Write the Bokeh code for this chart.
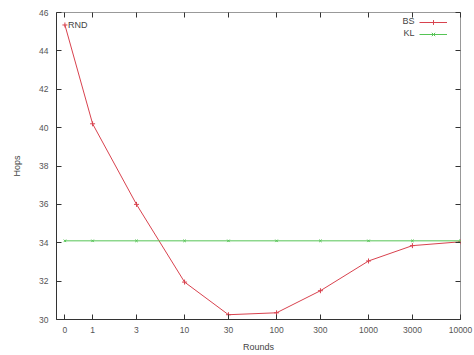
from bokeh.plotting import figure
from bokeh.models import FixedTicker, LinearAxis, LogAxis, Legend, LegendItem, Range1d, Label
from bokeh.embed import file_html
from bokeh.resources import INLINE

# Data
rounds_labels = ["0", "1", "3", "10", "30", "100", "300", "1000", "3000", "10000"]
rounds_pos = [0.5, 1, 3, 10, 30, 100, 300, 1000, 3000, 10000]  # 0 drawn at 0.5 on the log axis
bs_hops = [45.35, 40.2, 36.0, 31.95, 30.25, 30.35, 31.5, 33.05, 33.85, 34.05]
kl_hops = [34.1, 34.1, 34.1, 34.1, 34.1, 34.1, 34.1, 34.1, 34.1, 34.1]
y_ticks = [30, 32, 34, 36, 38, 40, 42, 44, 46]
series_names = ["BS", "KL"]

FONT = "Liberation Sans"
TXT = "#555555"
RED = "#d8424e"
GREEN = "#55c455"

p = figure(width=474, height=355, output_backend="svg", toolbar_location=None,
           x_axis_type="log", x_range=Range1d(0.405, 10000), y_range=Range1d(30, 46),
           min_border_left=56, min_border_right=14, min_border_top=12, min_border_bottom=36,
           x_axis_label="Rounds", y_axis_label="Hops")
p.grid.visible = False
p.outline_line_color = "#999999"
p.background_fill_color = "white"

xt = FixedTicker(ticks=rounds_pos, minor_ticks=[])
yt = FixedTicker(ticks=y_ticks, minor_ticks=[])
overrides = {pos: lab for pos, lab in zip(rounds_pos, rounds_labels)}

def style(ax):
    ax.major_tick_in = 5
    ax.major_tick_out = 0
    ax.minor_tick_in = 0
    ax.minor_tick_out = 0
    ax.axis_line_color = "#333333"
    ax.major_tick_line_color = "#333333"
    ax.major_label_text_font = FONT
    ax.major_label_text_font_size = "8.5px"
    ax.major_label_text_color = TXT
    ax.axis_label_text_font = FONT
    ax.axis_label_text_font_size = "9px"
    ax.axis_label_text_font_style = "normal"
    ax.axis_label_text_color = "#444444"

xa = p.xaxis[0]
xa.ticker = xt
xa.major_label_overrides = overrides
xa.major_label_standoff = 7
xa.axis_label_standoff = 6
style(xa)
ya = p.yaxis[0]
ya.ticker = yt
ya.major_label_standoff = 8
ya.axis_label_standoff = 14
style(ya)

# mirrored ticks (gnuplot style), no labels
top = LogAxis(ticker=xt, major_label_overrides={pos: "" for pos in rounds_pos})
style(top)
top.axis_line_color = None
top.major_label_standoff = 0
p.add_layout(top, "above")
right = LinearAxis(ticker=yt, major_label_overrides={t: "" for t in y_ticks})
style(right)
right.axis_line_color = None
right.major_label_standoff = 0
p.add_layout(right, "right")

r1 = p.line(rounds_pos, bs_hops, line_color=RED, line_width=1)
m1 = p.scatter(rounds_pos, bs_hops, marker="cross", size=5, line_color=RED, line_width=1)
r2 = p.line(rounds_pos, kl_hops, line_color=GREEN, line_width=1)
m2 = p.scatter(rounds_pos, kl_hops, marker="x", size=3.5, line_color=GREEN, line_width=1)

# gnuplot-like key: samples drawn by the legend, names right-aligned to their left
legend = Legend(items=[LegendItem(label="", renderers=[r1, m1]),
                       LegendItem(label="", renderers=[r2, m2])],
                location=(363, 279), border_line_color=None, background_fill_alpha=0,
                label_text_font_size="9px",
                glyph_width=28, glyph_height=12, spacing=0, padding=2, margin=0,
                label_height=12, label_standoff=0, label_width=0)
p.add_layout(legend)
for i, name in enumerate(series_names):
    p.add_layout(Label(x=rounds_pos[-1], y=y_ticks[-1], text=name, x_offset=-46, y_offset=-8 - 12 * i,
                       text_align="right", text_baseline="middle",
                       text_font=FONT, text_font_size="9px", text_color="#444444"))

p.add_layout(Label(x=rounds_pos[0], y=bs_hops[0], text="RND", x_offset=3, y_offset=-5,
                   text_font=FONT, text_font_size="9px", text_color="#444444"))

open("out.html", "w").write(file_html(p, INLINE))
